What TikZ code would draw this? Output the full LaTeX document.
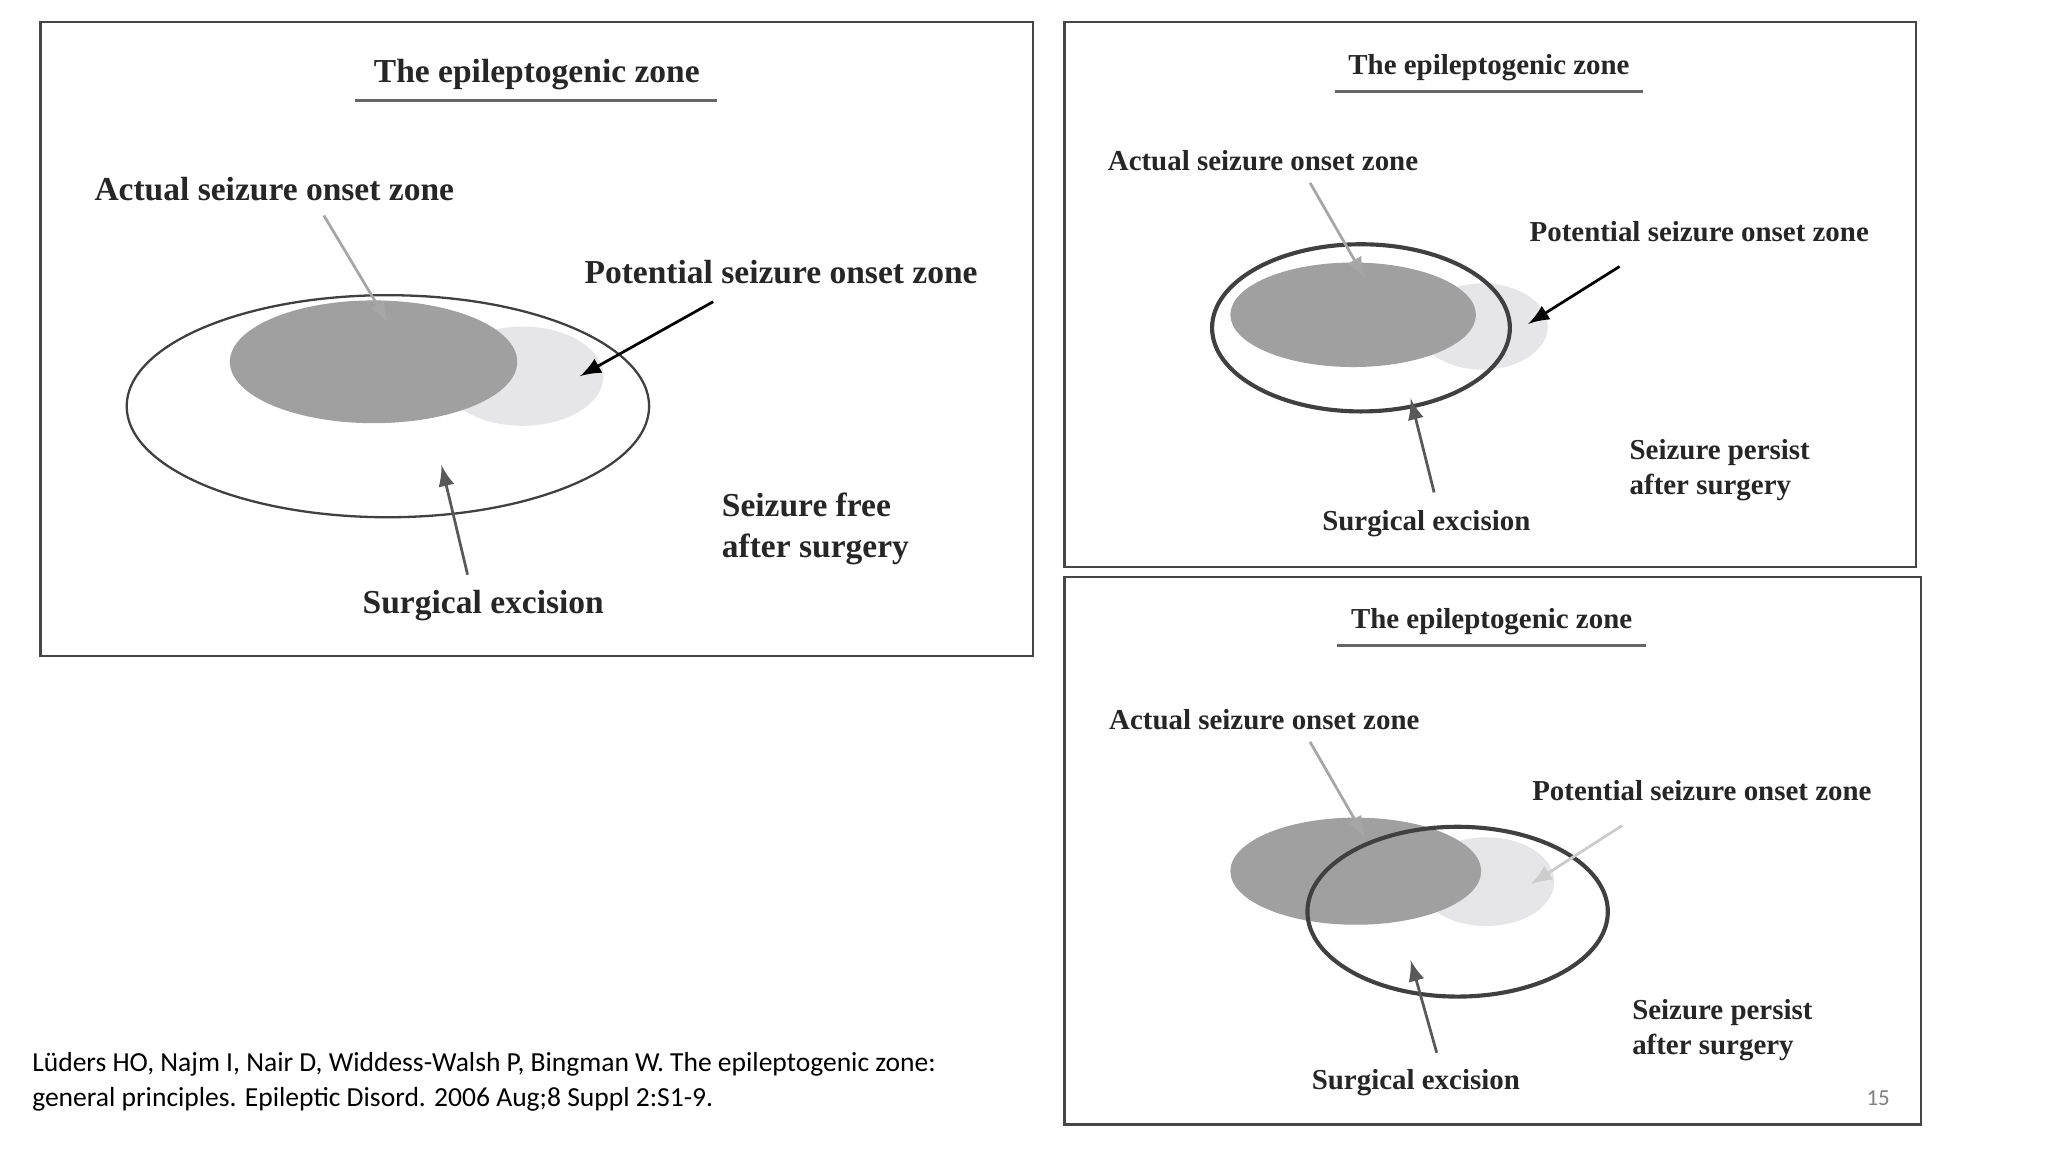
\documentclass[tikz,border=0pt]{standalone}
\usepackage{fontspec}
\setmainfont{Liberation Serif}
\newfontfamily\citefont{Carlito}
\usetikzlibrary{positioning}
\definecolor{OnsetGray}{RGB}{160,160,160}
\definecolor{PotentialGray}{RGB}{230,230,233}
\definecolor{FrameGray}{RGB}{70,70,70}
\tikzstyle{panel} = [draw=FrameGray, line width=0.5pt]
\tikzstyle{bigtxt} = [font=\fontsize{7.3}{8.8}\selectfont\bfseries, text=black!85, inner sep=0pt]
\tikzstyle{smalltxt} = [font=\fontsize{6.3}{7.6}\selectfont\bfseries, text=black!85, inner sep=0pt]
\tikzstyle{blockl} = [align=left, anchor=west]
\tikzstyle{arrow} = [line width=0.6pt,->,>=latex]
\tikzstyle{rim} = [draw=black!75, line width=0.5pt]
\tikzstyle{rimthick} = [draw=black!75, line width=0.9pt]

\begin{document}
\begin{tikzpicture}[x=0.1mm, y=-0.1mm]
\useasboundingbox (0,0) rectangle (1568,882);

% Panneau gauche
\draw[panel] (31,17) rectangle (791,502);
\node (titleA) [bigtxt] at (411,57) {The epileptogenic zone};
\draw[black!60, line width=0.6pt] (272,77) -- (549,77);
\fill[PotentialGray] (400,288) ellipse [x radius=62, y radius=38];
\fill[OnsetGray] (286,277) ellipse [x radius=110, y radius=47];
\draw[rim] (297,311) ellipse [x radius=200, y radius=85];
\node (actualA) [bigtxt] at (210,145) {Actual seizure onset zone};
\node (potA) [bigtxt] at (598,208) {Potential seizure onset zone};
\node (surgA) [bigtxt] at (370,464) {Surgical excision};
\node (freeA) [bigtxt, blockl] at (552,405) {Seizure free\\after surgery};
\coordinate (a1) at (248,165); \coordinate (a2) at (297,247);
\coordinate (p1) at (546,231); \coordinate (p2) at (444,288);
\coordinate (s1) at (358,440); \coordinate (s2) at (338,356);
\draw[arrow, black!35] (a1) -- (a2);
\draw[arrow, black] (p1) -- (p2);
\draw[arrow, black!65] (s1) -- (s2);

% Panneau haut droite
\draw[panel] (815,17) rectangle (1467,434);
\node (titleB) [smalltxt] at (1140,52) {The epileptogenic zone};
\draw[black!60, line width=0.6pt] (1022,70) -- (1258,70);
\fill[PotentialGray] (1135,250) ellipse [x radius=50, y radius=33];
\fill[OnsetGray] (1036,241) ellipse [x radius=94, y radius=40];
\draw[rimthick] (1042,251) ellipse [x radius=114, y radius=64];
\node (actualB) [smalltxt] at (967,123) {Actual seizure onset zone};
\node (potB) [smalltxt] at (1301,177) {Potential seizure onset zone};
\node (surgB) [smalltxt] at (1092,401) {Surgical excision};
\node (persB) [smalltxt, blockl] at (1247,360) {Seizure persist\\after surgery};
\coordinate (b1) at (1003,140); \coordinate (b2) at (1045,213);
\coordinate (q1) at (1240,204); \coordinate (q2) at (1170,248);
\coordinate (t1) at (1098,377); \coordinate (t2) at (1080,305);
\draw[arrow, black!35] (b1) -- (b2);
\draw[arrow, black] (q1) -- (q2);
\draw[arrow, black!65] (t1) -- (t2);

% Panneau bas droite
\draw[panel] (815,442) rectangle (1471,861);
\node (titleC) [smalltxt] at (1142,476) {The epileptogenic zone};
\draw[black!60, line width=0.6pt] (1024,494) -- (1260,494);
\fill[PotentialGray] (1138,675) ellipse [x radius=52, y radius=34];
\fill[OnsetGray] (1038,667) ellipse [x radius=96, y radius=41];
\draw[rimthick] (1116,698) ellipse [x radius=115, y radius=65];
\node (actualC) [smalltxt] at (968,551) {Actual seizure onset zone};
\node (potC) [smalltxt] at (1303,605) {Potential seizure onset zone};
\node (surgC) [smalltxt] at (1084,829) {Surgical excision};
\node (persC) [smalltxt, blockl] at (1249,789) {Seizure persist\\after surgery};
\coordinate (c1) at (1003,568); \coordinate (c2) at (1045,641);
\coordinate (r1) at (1242,632); \coordinate (r2) at (1172,677);
\coordinate (u1) at (1100,806); \coordinate (u2) at (1080,735);
\draw[arrow, black!35] (c1) -- (c2);
\draw[arrow, black!20] (r1) -- (r2);
\draw[arrow, black!65] (u1) -- (u2);

% Référence
\node (cite) [font=\citefont\fontsize{6}{7.7}\selectfont, align=left, anchor=west, inner sep=0pt] at (24,828)
  {Lüders HO, Najm I, Nair D, Widdess-Walsh P, Bingman W. The epileptogenic zone:\\general principles. Epileptic Disord. 2006 Aug;8 Suppl 2:S1-9.};
\node (page) [font=\citefont\fontsize{5}{6}\selectfont, text=black!50] at (1438,841) {15};

\end{tikzpicture}
\end{document}
